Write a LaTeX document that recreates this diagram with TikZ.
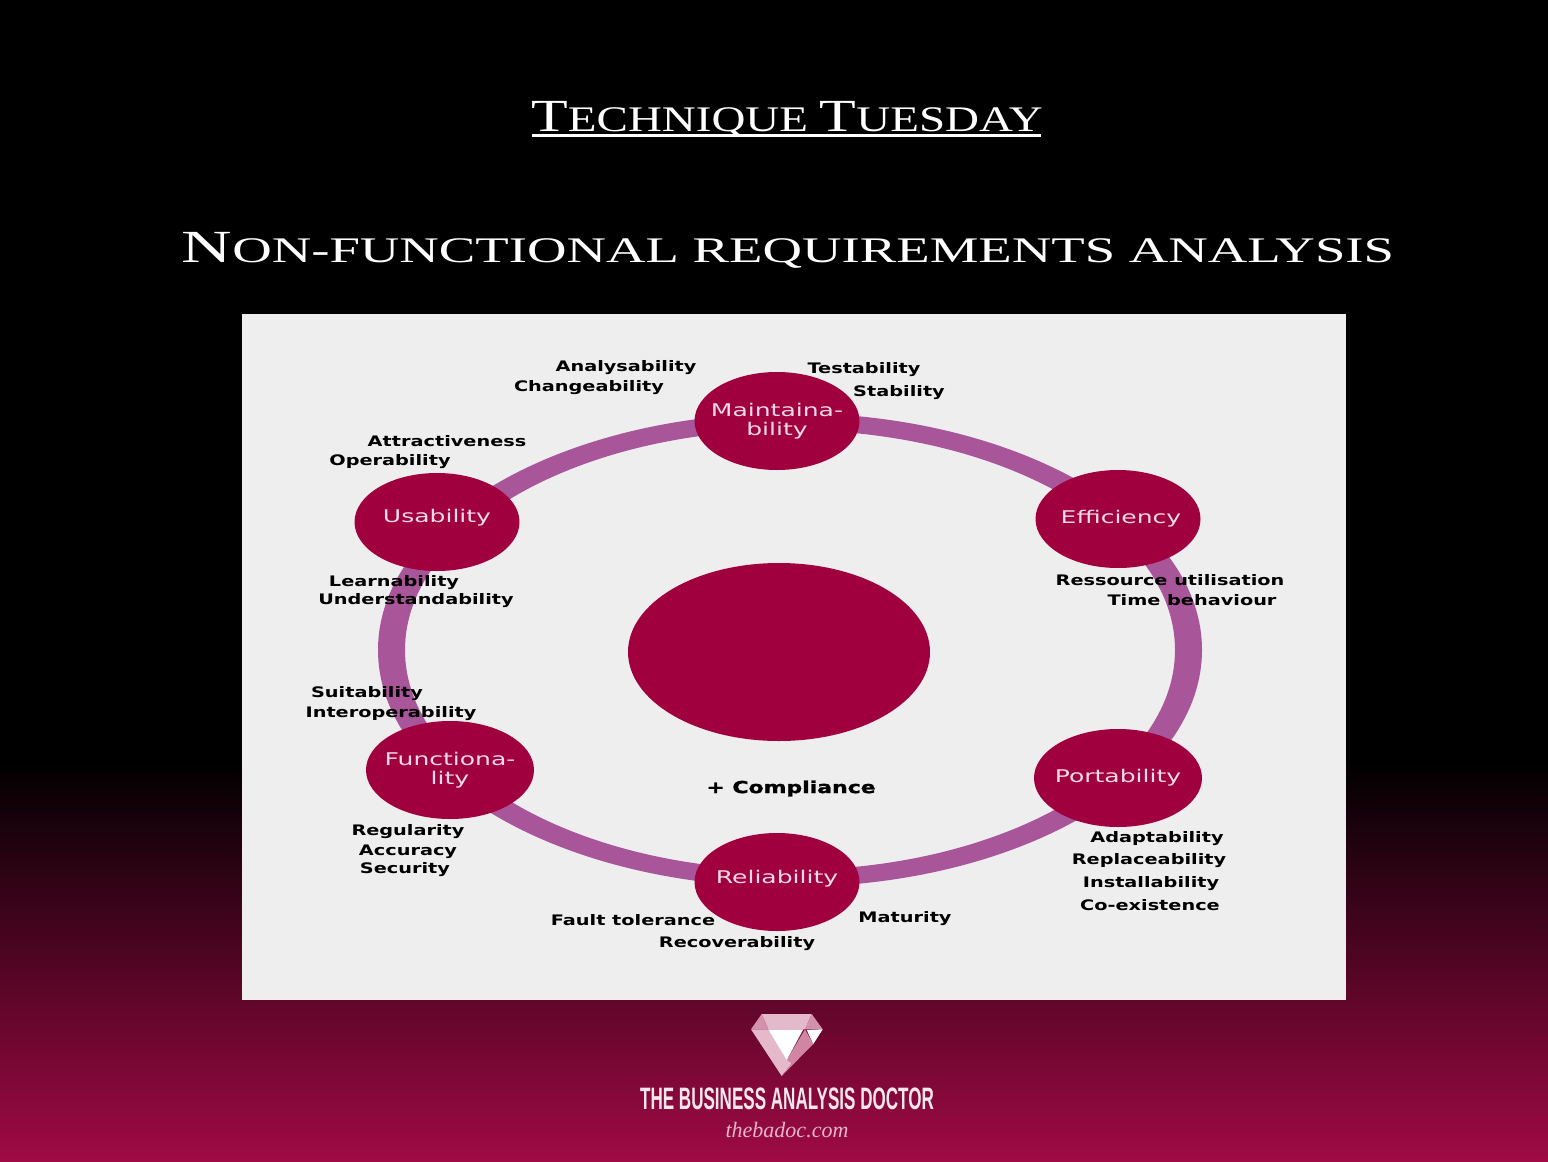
\documentclass[tikz,border=0pt]{standalone}
\usepackage{fontspec}
\usepackage{tikz}
\usetikzlibrary{shapes,shapes.geometric,positioning,calc}
\setmainfont{DejaVu Sans}
\newfontfamily\labelfont[FakeStretch=1.33]{DejaVu Sans}
\newfontfamily\compliancefont[FakeStretch=1.33,FakeBold=1.5]{DejaVu Sans}
\newfontfamily\qualityfont[FakeStretch=1.43]{DejaVu Sans}
\newfontfamily\titlefont[FakeStretch=1.305]{Liberation Serif}
\newfontfamily\subtitlefont[FakeStretch=1.52]{Liberation Serif}
\newfontfamily\logofont[FakeStretch=0.55]{Liberation Sans}
\newfontfamily\webfont{Liberation Serif}
\newcommand{\bigcaps}[1]{{\fontsize{46}{46}\selectfont #1}}
\definecolor{crimson}{HTML}{A0003E}
\definecolor{ringcolor}{HTML}{A9559A}
\definecolor{panelgrey}{HTML}{EEEEEE}
\definecolor{pagecrimson}{HTML}{A00A45}
\definecolor{softwhite}{HTML}{F3DCE6}
\tikzset{
    quality/.style={ellipse, fill=crimson, inner sep=-25pt, minimum width=165pt, minimum height=98pt, align=center, text=softwhite, font=\qualityfont\fontsize{17.5}{19}\selectfont},
    attribute/.style={inner sep=0pt, yshift=-1.5pt, text=black, font=\labelfont\bfseries\fontsize{14.5}{16}\selectfont},
    heading/.style={inner sep=0pt, text=white, font=\titlefont\fontsize{36}{40}\selectfont}
}
\begin{document}
\begin{tikzpicture}[x=1pt, y=-1pt]
    \useasboundingbox (0,0) rectangle (1548,1162);

    %Background
    \fill[black] (0,0) rectangle (1548,762);
    \shade[top color=black, bottom color=pagecrimson] (0,761) rectangle (1548,1162);
    \fill[panelgrey] (242,314) rectangle (1346,1000);

    %Headings
    \node (technique) [heading, anchor=base] at (787,131) {\bigcaps{T}ECHNIQUE \bigcaps{T}UESDAY};
    \node (nonfunctional) [heading, anchor=base, font=\subtitlefont\fontsize{36}{40}\selectfont] at (788,262) {\bigcaps{N}ON-FUNCTIONAL REQUIREMENTS ANALYSIS};
    \coordinate (underlineL) at (532,135.5);
    \coordinate (underlineR) at (1041,135.5);
    \draw[white, line width=3pt] (underlineL) -- (underlineR);

    %Ring
    \coordinate (ringcentre) at (790,650);
    \fill[ringcolor, even odd rule] (ringcentre) ellipse [x radius=412, y radius=237] (ringcentre) ellipse [x radius=385, y radius=220];

    %Nodes
    \node (Maintainability) [quality] at (777,421) {\raisebox{-7pt}{Maintaina-}\\\raisebox{-7pt}{bility}};
    \node (Efficiency)      [quality] at (1118,519) {\hspace*{6pt}Efficiency};
    \node (Portability)     [quality, minimum width=168pt] at (1118,778) {\raisebox{1.5pt}{Portability}};
    \node (Reliability)     [quality] at (777,882) {\raisebox{11pt}{Reliability}};
    \node (Functionality)   [quality, minimum width=168pt] at (450,770) {\raisebox{-4.5pt}{Functiona-}\\\raisebox{-4.5pt}{lity}};
    \node (Usability)       [quality] at (437,522) {\raisebox{13pt}{Usability}};
    \node (centre)          [ellipse, fill=crimson, inner sep=0pt, minimum width=302pt, minimum height=178pt] at (779,652) {};

    % Text labels (outside nodes)
    \begin{scope}[every node/.style={attribute}]
    \node (analysability)     at (626,366) {Analysability};
    \node (changeability)     at (589,386) {Changeability};
    \node (testability)       at (864,368) {Testability};
    \node (stability)         at (899,391) {Stability};
    \node (attractiveness)    at (447,440) {Attractiveness};
    \node (operability)       at (390,460) {Operability};
    \node (learnability)      at (394,581) {Learnability};
    \node (understandability) at (416,599) {Understandability};
    \node (ressource)         at (1170,579) {Ressource utilisation};
    \node (timebehaviour)     at (1192,599) {Time behaviour};
    \node (suitability)       at (367,692) {Suitability};
    \node (interoperability)  at (391,712) {Interoperability};
    \node (regularity)        at (408,830) {Regularity};
    \node (accuracy)          at (408,850) {Accuracy};
    \node (security)          at (405,868) {Security};
    \node (adaptability)      at (1157,837) {Adaptability};
    \node (replaceability)    at (1149,859) {Replaceability};
    \node (installability)    at (1151,882) {Installability};
    \node (coexistence)       at (1150,904) {Co-existence};
    \node (faulttolerance)    at (633,919) {Fault tolerance};
    \node (recoverability)    at (737,942) {Recoverability};
    \node (maturity)          at (905,917) {Maturity};
    \node (compliance) [font=\compliancefont\bfseries\fontsize{16.5}{18}\selectfont] at (791,787) {+ Compliance};
    \end{scope}

    %Logo
    \fill[white!72!pagecrimson] (761.7,1014) -- (811.7,1014) -- (805,1029.3) -- (768.3,1029.3) -- cycle;
    \fill[white!55!pagecrimson] (761.7,1014) -- (768.3,1029.3) -- (751,1029.3) -- cycle;
    \fill[white!55!pagecrimson] (811.7,1014) -- (822.7,1029.3) -- (805,1029.3) -- cycle;
    \fill[white!72!pagecrimson] (751,1029.3) -- (768.3,1029.3) -- (791.7,1063.3) -- (781.7,1076) -- cycle;
    \fill[white!50!pagecrimson] (805,1029.3) -- (813.3,1044) -- (781.7,1076) -- (791.7,1063.3) -- (786.7,1060) -- cycle;
    \fill[white] (768.3,1029.3) -- (803.3,1029.3) -- (786.7,1060) -- cycle;
    \fill[white] (806.7,1030) -- (822.7,1029.3) -- (813.3,1044) -- cycle;
    \node (logotext) [inner sep=0pt, text=white!90!pagecrimson, font=\logofont\bfseries\fontsize{31}{34}\selectfont] at (787,1099) {THE BUSINESS ANALYSIS DOCTOR};
    \node (website)  [inner sep=0pt, text=white!70!pagecrimson, font=\webfont\itshape\fontsize{22}{24}\selectfont] [below=12pt of logotext] {thebadoc.com};
\end{tikzpicture}
\end{document}
